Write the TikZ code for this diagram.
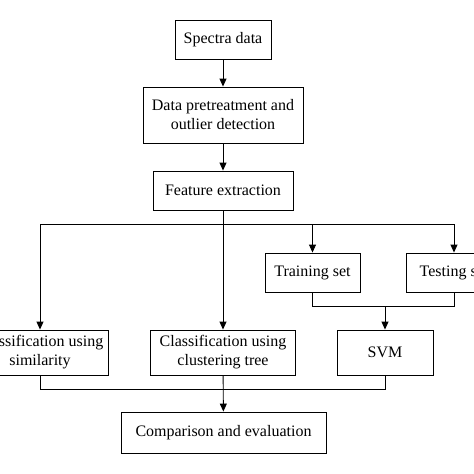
\documentclass[tikz,border=0pt]{standalone}
\usepackage{fontspec}
\setmainfont{Liberation Serif}
\usetikzlibrary{arrows.meta,positioning}

\begin{document}
\begin{tikzpicture}[
    x=1pt, y=-1pt,
    font=\fontsize{16}{19}\selectfont,
    block/.style={draw, line width=0.9pt, align=center, inner sep=2pt},
    arrow/.style={-{Triangle[length=8pt, width=7pt]}, line width=0.9pt},
    link/.style={line width=0.9pt}
]
\useasboundingbox (0,0) rectangle (474,474);
\clip (0,0) rectangle (474,474);

\node[block, minimum width=96pt, minimum height=39pt] (spec) at (223,39.5) {Spectra data};
\node[block, minimum width=160pt, minimum height=56pt] (pre) at (223,115) {Data pretreatment and\\outlier detection};
\node[block, minimum width=140pt, minimum height=39pt] (feat) at (223,190.5) {Feature extraction};
\node[block, minimum width=136pt, minimum height=45pt] (simil) at (40,352.5) {Classification using\\similarity};
\node[block, minimum width=145pt, minimum height=45pt] (clust) at (223,352.5) {Classification using\\clustering tree};
\node[block, minimum width=95pt, minimum height=39pt] (train) at (312.5,272.5) {Training set};
\node[block, minimum width=95pt, minimum height=39pt] (test) at (454,272.5) {Testing set};
\node[block, minimum width=96pt, minimum height=45pt] (svm) at (385,352.5) {SVM};
\node[block, minimum width=205pt, minimum height=41pt] (comp) at (223.5,432.5) {Comparison and evaluation};

\coordinate (split) at (223,224);
\coordinate (merge) at (385,306);
\coordinate (gather) at (223,389);

\draw[arrow] (spec) -- (pre);
\draw[arrow] (pre) -- (feat);
\draw[link] (feat) -- (split);
\draw[arrow] (split) -| (simil);
\draw[arrow] (split) -- (clust);
\draw[arrow] (split) -| (train);
\draw[arrow] (split) -| (test);
\draw[link] (train) |- (merge);
\draw[link] (test) |- (merge);
\draw[arrow] (merge) -- (svm);
\draw[link] (simil) |- (gather);
\draw[link] (svm) |- (gather);
\draw[arrow] (clust) -- (comp);
\end{tikzpicture}
\end{document}
